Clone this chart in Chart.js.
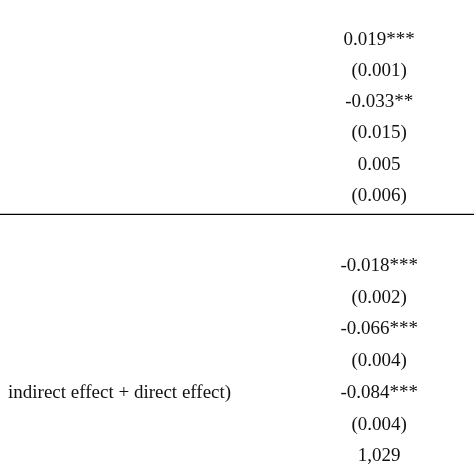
<!DOCTYPE html>
<html>
<head>
<script src="https://cdn.jsdelivr.net/npm/chart.js@4"></script>
<style>
  html, body { margin: 0; background: #fff; }
  #wrap { width: 474px; height: 474px; }
</style>
</head>
<body>
<div id="wrap"><canvas id="table_chart"></canvas></div>
<script>
// table cells, top block and bottom block
const topCells = ["0.019***", "(0.001)", "-0.033**", "(0.015)", "0.005", "(0.006)"];
const bottomCells = ["-0.018***", "(0.002)", "-0.066***", "(0.004)", "-0.084***", "(0.004)", "1,029"];
const bottomLabels = ["", "", "", "", "indirect effect + direct effect)", "", ""];
const bottomStart = 7.24; // row slot where the lower block begins

// plugin that writes cell text at row positions of the y scale
const tableText = {
  id: "tableText",
  afterDraw(chart) {
    const ctx = chart.ctx;
    const y = chart.scales.y;
    const x = chart.scales.x;
    ctx.save();
    ctx.fillStyle = "#111";
    ctx.font = "19px 'Liberation Serif'";
    ctx.textBaseline = "middle";
    ctx.textAlign = "center";
    topCells.forEach(function (t, i) {
      ctx.fillText(t, x.getPixelForValue(0.8), y.getPixelForValue(i));
    });
    bottomCells.forEach(function (t, i) {
      ctx.fillText(t, x.getPixelForValue(0.8), y.getPixelForValue(bottomStart + i * 1.016));
    });
    ctx.textAlign = "left";
    bottomLabels.forEach(function (t, i) {
      if (!t) return;
      ctx.fillText(t, 8, y.getPixelForValue(bottomStart + i * 1.016));
    });
    // rule between the blocks
    ctx.strokeStyle = "#000";
    ctx.lineWidth = 1.3;
    const ly = y.getPixelForValue(5.59);
    ctx.beginPath();
    ctx.moveTo(0, ly);
    ctx.lineTo(chart.width, ly);
    ctx.stroke();
    ctx.restore();
  },
};

new Chart(document.getElementById("table_chart"), {
  type: "scatter",
  data: { datasets: [{ data: [] }] },
  options: {
    responsive: true,
    maintainAspectRatio: false,
    animation: false,
    layout: { padding: { top: 24, bottom: 0, left: 0, right: 0 } },
    plugins: { legend: { display: false }, tooltip: { enabled: false } },
    scales: {
      x: { display: false, min: 0, max: 1 },
      y: { display: false, min: -0.5, max: 13.9, reverse: true },
    },
  },
  plugins: [tableText],
});
</script>
</body>
</html>
